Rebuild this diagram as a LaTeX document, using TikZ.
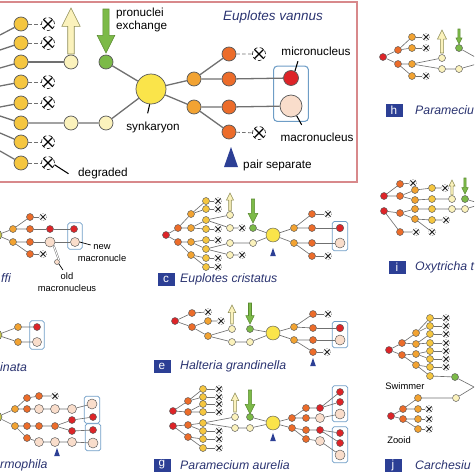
\documentclass[tikz,border=0pt]{standalone}
\usepackage{fontspec}
\setmainfont{Liberation Sans}
\usetikzlibrary{fit}

\definecolor{nucyellow}{HTML}{F5C640}
\definecolor{paleyellow}{HTML}{FBF2BC}
\definecolor{synyellow}{HTML}{FAE44A}
\definecolor{nucgreen}{HTML}{7CBA48}
\definecolor{nucamber}{HTML}{F2A332}
\definecolor{nucorange}{HTML}{EC6C2A}
\definecolor{nucred}{HTML}{DD2428}
\definecolor{nucpeach}{HTML}{F9DDCB}
\definecolor{olivesyn}{HTML}{C4C24A}
\definecolor{rimgray}{HTML}{595959}
\definecolor{linegray}{HTML}{707070}
\definecolor{boxblue}{HTML}{6E9DC6}
\definecolor{panelred}{HTML}{D8898B}
\definecolor{tagblue}{HTML}{2C3F95}
\definecolor{titleblue}{HTML}{2A3370}
\definecolor{creamrim}{HTML}{8E8C55}
\definecolor{greenrim}{HTML}{5A8A30}

\tikzset{
  nuc/.style={circle, draw=rimgray, line width=0.6pt, inner sep=0pt, minimum size=14*0.03cm, fill=#1},
  snuc/.style={circle, draw=rimgray, line width=0.4pt, inner sep=0pt, minimum size=7*0.03cm, fill=#1},
  lost/.style={circle, draw=black, densely dashed, line width=0.5pt, inner sep=0pt, minimum size=13*0.03cm,
    path picture={\draw[solid, line width=1.1pt]
      (path picture bounding box.north west) -- (path picture bounding box.south east)
      (path picture bounding box.north east) -- (path picture bounding box.south west);}},
  slost/.style={circle, draw=black!70, densely dotted, line width=0.35pt, inner sep=0pt, minimum size=7.5*0.03cm,
    path picture={\draw[solid, line width=0.9pt, black!85]
      (path picture bounding box.north west) -- (path picture bounding box.south east)
      (path picture bounding box.north east) -- (path picture bounding box.south west);}},
  link/.style={draw=linegray, line width=1.1pt},
  dlink/.style={draw=linegray, densely dashed, line width=0.7pt},
  slink/.style={draw=linegray, line width=0.55pt},
  pointer/.style={draw=black, line width=0.9pt},
  nbox/.style={draw=boxblue, rounded corners=3pt, line width=0.9pt, inner xsep=6*0.03cm, inner ysep=4*0.03cm},
  snbox/.style={draw=boxblue, rounded corners=1.5pt, line width=0.6pt, inner sep=2.5*0.03cm},
  tag/.style={fill=tagblue, text=white, minimum width=17*0.03cm, minimum height=13*0.03cm, inner sep=0pt, font=\fontsize{10}{10}\selectfont},
  species/.style={anchor=west, inner sep=0pt, text=titleblue, font=\fontsize{10.5}{12}\selectfont\itshape},
  note/.style={inner sep=0pt, align=center, font=\fontsize{10}{11.6}\selectfont},
  snote/.style={inner sep=0pt, align=center, font=\fontsize{8}{10}\selectfont},
  creamup/.pic={\path[draw=creamrim, fill=paleyellow, line width=0.5pt]
    (-1.4,0) -- (-1.4,-12) -- (-4,-12) -- (0,-20) -- (4,-12) -- (1.4,-12) -- (1.4,0) -- cycle;},
  greendown/.pic={\path[draw=greenrim, fill=nucgreen, line width=0.5pt]
    (-1.4,0) -- (-1.4,12) -- (-4,12) -- (0,20) -- (4,12) -- (1.4,12) -- (1.4,0) -- cycle;},
  parting/.pic={\fill[tagblue] (-7,0) -- (0,-20) -- (7,0) -- cycle;},
}

\begin{document}
\begin{tikzpicture}[x=0.03cm, y=-0.03cm]
\useasboundingbox (0,0) rectangle (474,474);
\clip (0,0) rectangle (474,474);

% ---------- panel a: Euplotes vannus ----------
\draw[panelred, line width=1.8pt] (-5,2) rectangle (357,182);
\node[species, font=\fontsize{11.5}{13}\selectfont\itshape] (atitle) at (223,17) {Euplotes vannus};

\foreach \i/\y/\ly in {1/24/35,2/43/50,3/62/68,4/82/86,5/103/107,6/123/116,7/142/133,8/163/151}{
  \node[nuc=nucyellow] (y\i) at (21,\y) {};
  \coordinate (in\i) at (0,\ly);
  \draw[link] (in\i) -- (y\i);
}
\foreach \i/\y in {1/24,2/43,4/82,5/103,7/142,8/163}{
  \node[lost] (x\i) at (48,\y) {};
  \draw[dlink] (y\i) -- (x\i);
}
\node[nuc=paleyellow] (p3) at (71,62) {};
\node[nuc=paleyellow] (p6a) at (71,123) {};
\node[nuc=paleyellow] (p6b) at (106,123) {};
\node[nuc=nucgreen] (gr) at (106,62) {};
\node[nuc=synyellow, minimum size=30*0.03cm] (syn) at (151,89) {};
\draw[link] (y3) -- (p3);
\draw[link] (y6) -- (p6a) -- (p6b) -- (syn);
\draw[link] (gr) -- (syn);
\pic[scale=2.3] at (71,54) {creamup};
\pic[scale=2.2] at (106,9) {greendown};
\node[note, anchor=west, align=left] (pronote) at (116,20) {pronuclei\\exchange};
\node[note] (synlab) at (153,127) {synkaryon};
\draw[pointer] (syn.265) -- ++(-2,9);

\node[nuc=nucamber] (am1) at (194,79) {};
\node[nuc=nucamber] (am2) at (194,107) {};
\foreach \i/\y in {1/54,2/79,3/107,4/132} \node[nuc=nucorange] (or\i) at (229,\y) {};
\node[lost] (xr1) at (259,54) {};
\node[lost] (xr4) at (259,133) {};
\node[nuc=nucred, minimum size=15*0.03cm] (mic) at (291,78) {};
\node[nuc=nucpeach, minimum size=22*0.03cm] (mac) at (291,106) {};
\node[nbox, fit=(mic)(mac)] (pairbox) {};
\draw[link] (syn) -- (am1) (syn) -- (am2);
\draw[link] (am1) -- (or1) (am1) -- (or2) (am2) -- (or3) (am2) -- (or4);
\draw[dlink] (or1) -- (xr1) (or4) -- (xr4);
\draw[link] (or2) -- (mic) (or3) -- (mac);
\node[note] (miclab) at (316,51) {micronucleus};
\draw[pointer] (mic.60) -- ++(3,-10);
\node[note] (maclab) at (317,137) {macronucleus};
\draw[pointer] (mac.-60) -- ++(5,9);
\node[note, anchor=west] (deglab) at (78,173) {degraded};
\draw[pointer] (x8.-15) -- ++(14,9);
\pic at (231,167) {parting};
\node[note, anchor=west] (pairlab) at (243,165) {pair separate};

% ---------- panel b ----------
\node[snuc=olivesyn, minimum size=10*0.03cm] (bS) at (-3,235) {};
\node[snuc=nucamber] (bY1) at (13,229) {};
\node[snuc=nucamber] (bY2) at (13,242) {};
\foreach \i/\y in {1/217,2/229,3/242,4/254} \node[snuc=nucorange] (bO\i) at (30,\y) {};
\node[slost] (bX1) at (43,217) {};
\node[slost] (bX4) at (43,254) {};
\node[snuc=nucred] (bRm) at (50,229) {};
\node[snuc=nucred] (bMi) at (74,229) {};
\node[snuc=nucpeach, minimum size=10*0.03cm] (bOld) at (50,242) {};
\node[snuc=nucpeach, minimum size=9*0.03cm] (bNew) at (75,242) {};
\node[snuc=nucpeach, minimum size=5*0.03cm] (bFrag) at (57,262) {};
\node[snbox, fit=(bMi)(bNew)] (bbox) {};
\draw[slink] (bS) -- (bY1) (bS) -- (bY2) (bY1) -- (bO1) (bY1) -- (bO2) (bY2) -- (bO3) (bY2) -- (bO4);
\draw[slink] (bO1) -- (bX1) (bO4) -- (bX4) (bO2) -- (bRm) -- (bMi) (bO3) -- (bOld) -- (bNew);
\draw[linegray, double=white, double distance=0.8pt, line width=0.4pt] (bOld.south east) -- (bFrag.north east);
\node[snote] (bnewlab) at (102,253) {new\\macronucle};
\draw[pointer, line width=0.6pt] (bNew.east) -- ++(11,3);
\node[snote] (boldlab) at (67,282) {old\\macronucleus};
\draw[pointer, line width=0.6pt] (bFrag.south east) -- ++(4,6);
\node[species] (bname) at (1,278) {ffi};

% ---------- panel d ----------
\node[snuc=olivesyn, minimum size=10*0.03cm] (dS) at (-3,335) {};
\node[snuc=nucamber] (dY1) at (18,327) {};
\node[snuc=nucamber] (dY2) at (18,342) {};
\node[snuc=nucred] (dMi) at (37,327) {};
\node[snuc=nucpeach, minimum size=9*0.03cm] (dMa) at (37,342) {};
\node[snbox, fit=(dMi)(dMa)] (dbox) {};
\draw[slink] (dS) -- (dY1) (dS) -- (dY2) (dY1) -- (dMi) (dY2) -- (dMa);
\node[species] (dname) at (0,367) {inata};

% ---------- panel f ----------
\node[snuc=olivesyn, minimum size=10*0.03cm] (fS) at (-3,417) {};
\node[snuc=nucamber] (fO1) at (15,409) {};
\node[snuc=nucamber] (fO2) at (15,426) {};
\node[snuc=nucorange] (fA) at (27,398) {};
\node[snuc=nucorange] (fB) at (39,396) {};
\node[slost] (fX) at (55,396) {};
\node[snuc=nucorange] (fC) at (27,409) {};
\node[snuc=nucpeach, minimum size=9*0.03cm] (fD) at (39,409) {};
\node[snuc=nucpeach, minimum size=9*0.03cm] (fE) at (55,409) {};
\node[snuc=nucpeach, minimum size=9*0.03cm] (fF) at (72,409) {};
\node[snuc=nucpeach, minimum size=10*0.03cm] (fM1) at (92,404) {};
\node[snuc=nucorange] (fG) at (27,426) {};
\node[snuc=nucorange] (fH) at (39,426) {};
\node[snuc=nucorange] (fI) at (55,426) {};
\node[snuc=nucred] (fJ) at (72,420) {};
\node[snuc=nucred] (fK) at (72,431) {};
\node[snuc=nucred] (fM2) at (93,417) {};
\node[snuc=nucred] (fM3) at (93,430) {};
\node[snuc=nucorange] (fL) at (27,438) {};
\node[snuc=nucpeach, minimum size=9*0.03cm] (fN) at (39,442) {};
\node[snuc=nucpeach, minimum size=9*0.03cm] (fP) at (55,442) {};
\node[snuc=nucpeach, minimum size=9*0.03cm] (fQ) at (72,442) {};
\node[snuc=nucpeach, minimum size=10*0.03cm] (fM4) at (93,443) {};
\node[snbox, fit=(fM1)(fM2)] (fbox1) {};
\node[snbox, fit=(fM3)(fM4)] (fbox2) {};
\draw[slink] (fS) -- (fO1) (fS) -- (fO2) (fO1) -- (fA) (fO1) -- (fC) (fO2) -- (fG) (fO2) -- (fL);
\draw[slink] (fA) -- (fB) -- (fX) (fC) -- (fD) -- (fE) -- (fF) -- (fM1);
\draw[slink] (fG) -- (fH) -- (fI) (fI) -- (fJ) (fI) -- (fK) (fJ) -- (fM2) (fK) -- (fM3);
\draw[slink] (fL) -- (fN) -- (fP) -- (fQ) -- (fM4);
\pic[scale=0.4] at (57,456) {parting};
\node[species] (fname) at (0,465) {rmophila};

% ---------- panel c: Euplotes cristatus ----------
\node[snuc=nucred] (cR) at (166,235) {};
\node[snuc=nucorange] (cO1) at (178,228) {};
\node[snuc=nucorange] (cO2) at (178,242) {};
\foreach \i/\y in {1/214,2/228,3/242,4/255} \node[snuc=nucamber] (cA\i) at (191,\y) {};
\foreach \i/\y in {1/201,2/209,3/220,4/229,5/240,6/249,7/258,8/267} \node[snuc=nucyellow] (cY\i) at (206,\y) {};
\foreach \i/\y in {1/201,2/209,4/229,5/240,7/258,8/267}{
  \node[slost] (cX\i) at (218,\y) {};
  \draw[slink] (cY\i) -- (cX\i);
}
\foreach \i/\y in {1/215,2/228,3/243,4/255} \node[snuc=paleyellow] (cP\i) at (230,\y) {};
\node[slost] (cXP2) at (242,228) {};
\node[slost] (cXP4) at (242,255) {};
\node[snuc=paleyellow] (cPb) at (253,243) {};
\node[snuc=nucgreen] (cG) at (253,228) {};
\node[snuc=synyellow, minimum size=14*0.03cm] (cS) at (273,235) {};
\draw[slink] (cR) -- (cO1) (cR) -- (cO2) (cO1) -- (cA1) (cO1) -- (cA2) (cO2) -- (cA3) (cO2) -- (cA4);
\draw[slink] (cA1) -- (cY1) (cA1) -- (cY2) (cA2) -- (cY3) (cA2) -- (cY4) (cA3) -- (cY5) (cA3) -- (cY6) (cA4) -- (cY7) (cA4) -- (cY8);
\draw[slink] (cY3) -- (cP1) (cY3) -- (cP2) (cY6) -- (cP3) (cY6) -- (cP4) (cP2) -- (cXP2) (cP4) -- (cXP4);
\draw[slink] (cP3) -- (cPb) -- (cS) (cG) -- (cS);
\node[snuc=nucamber] (cRA1) at (294,228) {};
\node[snuc=nucamber] (cRA2) at (294,243) {};
\foreach \i/\y in {1/214,2/228,3/243,4/256} \node[snuc=nucorange] (cRO\i) at (312,\y) {};
\node[slost] (cRX1) at (328,214) {};
\node[slost] (cRX4) at (328,256) {};
\node[snuc=nucred, minimum size=7.5*0.03cm] (cMi) at (340,228) {};
\node[snuc=nucpeach, minimum size=10*0.03cm] (cMa) at (340,243) {};
\node[snbox, fit=(cMi)(cMa)] (cbox) {};
\draw[slink] (cS) -- (cRA1) (cS) -- (cRA2) (cRA1) -- (cRO1) (cRA1) -- (cRO2) (cRA2) -- (cRO3) (cRA2) -- (cRO4);
\draw[slink] (cRO1) -- (cRX1) (cRO2) -- (cMi) (cRO3) -- (cMa) (cRO4) -- (cRX4);
\pic[scale=0.9] at (230,211) {creamup};
\pic[scale=1.2] at (253,199) {greendown};
\pic[scale=0.4] at (273,256) {parting};
\node[tag] (ctag) at (166,279) {c};
\node[species] (cname) at (180,279) {Euplotes cristatus};

% ---------- panel e: Halteria grandinella ----------
\node[snuc=nucred] (eR) at (175,321) {};
\node[snuc=nucorange] (eO1) at (192,313) {};
\node[snuc=nucorange] (eO2) at (192,327) {};
\node[slost] (eX1) at (208,312) {};
\node[snuc=nucamber] (eA1) at (208,321) {};
\node[slost] (eXA1) at (221,321) {};
\node[snuc=nucamber] (eA2) at (208,336) {};
\node[snuc=paleyellow] (eP1) at (232,329) {};
\node[snuc=paleyellow] (eP2) at (232,342) {};
\node[snuc=paleyellow] (eP3) at (250,342) {};
\node[snuc=nucgreen] (eG) at (250,329) {};
\node[snuc=synyellow, minimum size=14*0.03cm] (eS) at (273,333) {};
\draw[slink] (eR) -- (eO1) (eR) -- (eO2) (eO1) -- (eX1) (eO2) -- (eA1) (eO2) -- (eA2) (eA1) -- (eXA1);
\draw[slink] (eA2) -- (eP1) (eA2) -- (eP2) (eP2) -- (eP3) -- (eS) (eG) -- (eS);
\node[snuc=nucamber] (eRA1) at (294,327) {};
\node[snuc=nucamber] (eRA2) at (294,340) {};
\foreach \i/\y in {1/314,2/328,3/340,4/352} \node[snuc=nucorange] (eRO\i) at (313,\y) {};
\node[slost] (eRX1) at (328,314) {};
\node[slost] (eRX4) at (327,352) {};
\node[snuc=nucred, minimum size=7.5*0.03cm] (eMi) at (340,328) {};
\node[snuc=nucpeach, minimum size=10*0.03cm] (eMa) at (340,340) {};
\node[snbox, fit=(eMi)(eMa)] (ebox) {};
\draw[slink] (eS) -- (eRA1) (eS) -- (eRA2) (eRA1) -- (eRO1) (eRA1) -- (eRO2) (eRA2) -- (eRO3) (eRA2) -- (eRO4);
\draw[slink] (eRO1) -- (eRX1) (eRO2) -- (eMi) (eRO3) -- (eMa) (eRO4) -- (eRX4);
\pic[scale=0.95] at (232,324) {creamup};
\pic[scale=1.05] at (250,303) {greendown};
\pic[scale=0.4] at (313,366) {parting};
\node[tag] (etag) at (162,366) {e};
\node[species] (ename) at (180,366) {Halteria grandinella};

% ---------- panel g: Paramecium aurelia ----------
\node[snuc=nucred] (gR1) at (173,411) {};
\node[snuc=nucred] (gR2) at (173,426) {};
\foreach \i/\y in {1/401,2/412,3/425,4/437} \node[snuc=nucorange] (gO\i) at (188,\y) {};
\foreach \i/\y in {1/389,2/397,3/404,4/412,5/423,6/431,7/439,8/448} \node[snuc=nucyellow] (gY\i) at (203,\y) {};
\foreach \i/\y in {1/389,2/397,3/404,4/412,6/431,7/439,8/448}{
  \node[slost] (gX\i) at (219,\y) {};
  \draw[slink] (gY\i) -- (gX\i);
}
\node[snuc=paleyellow] (gP1) at (235,417) {};
\node[snuc=paleyellow] (gP2) at (235,428) {};
\node[snuc=paleyellow] (gP3) at (250,428) {};
\node[snuc=nucgreen] (gG) at (250,417) {};
\node[snuc=synyellow, minimum size=14*0.03cm] (gS) at (273,423) {};
\draw[slink] (gR1) -- (gO1) (gR1) -- (gO2) (gR2) -- (gO3) (gR2) -- (gO4);
\draw[slink] (gO1) -- (gY1) (gO1) -- (gY2) (gO2) -- (gY3) (gO2) -- (gY4) (gO3) -- (gY5) (gO3) -- (gY6) (gO4) -- (gY7) (gO4) -- (gY8);
\draw[slink] (gY5) -- (gP1) (gY5) -- (gP2) (gP2) -- (gP3) -- (gS) (gG) -- (gS);
\node[snuc=nucorange] (gRA1) at (292,418) {};
\node[snuc=nucorange] (gRA2) at (292,428) {};
\foreach \i/\y in {1/408,2/418,3/430,4/439} \node[snuc=nucorange] (gRO\i) at (306,\y) {};
\node[snuc=nucred] (gRR1) at (320,408) {};
\node[snuc=nucpeach, minimum size=9*0.03cm] (gRP2) at (320,418) {};
\node[snuc=nucred] (gRR3) at (320,430) {};
\node[snuc=nucpeach, minimum size=9*0.03cm] (gRP4) at (320,441) {};
\node[snuc=nucred] (gM1) at (340,392) {};
\node[snuc=nucred] (gM2) at (340,402) {};
\node[snuc=nucpeach, minimum size=10*0.03cm] (gM3) at (340,414) {};
\node[snuc=nucred] (gM4) at (340,433) {};
\node[snuc=nucred] (gM5) at (340,443) {};
\node[snuc=nucpeach, minimum size=10*0.03cm] (gM6) at (340,455) {};
\node[snbox, fit=(gM1)(gM3)] (gbox1) {};
\node[snbox, fit=(gM4)(gM6)] (gbox2) {};
\draw[slink] (gS) -- (gRA1) (gS) -- (gRA2) (gRA1) -- (gRO1) (gRA1) -- (gRO2) (gRA2) -- (gRO3) (gRA2) -- (gRO4);
\draw[slink] (gRO1) -- (gRR1) (gRO2) -- (gRP2) (gRO3) -- (gRR3) (gRO4) -- (gRP4);
\draw[slink] (gRR1) -- (gM1) (gRR1) -- (gM2) (gRP2) -- (gM3) (gRR3) -- (gM4) (gRR3) -- (gM5) (gRP4) -- (gM6);
\pic[scale=0.95] at (235,412) {creamup};
\pic[scale=1.2] at (250,390) {greendown};
\pic[scale=0.4] at (273,441) {parting};
\node[tag] (gtag) at (162,465) {g};
\node[species] (gname) at (180,465) {Paramecium aurelia};

% ---------- panel h ----------
\node[snuc=nucred] (hR) at (383,57) {};
\node[snuc=nucorange] (hO1) at (398,50) {};
\node[snuc=nucorange] (hO2) at (398,64) {};
\foreach \i/\y in {1/37,2/48,3/64,4/76} \node[snuc=nucamber] (hA\i) at (412,\y) {};
\foreach \i/\y in {1/37,2/48,4/76}{
  \node[slost] (hX\i) at (426,\y) {};
  \draw[slink] (hA\i) -- (hX\i);
}
\node[snuc=paleyellow] (hP1) at (442,58) {};
\node[snuc=paleyellow] (hP2) at (442,69) {};
\node[snuc=paleyellow] (hP3) at (459,69) {};
\node[snuc=nucgreen] (hG) at (459,48) {};
\coordinate (hS) at (484,62);
\draw[slink] (hR) -- (hO1) (hR) -- (hO2) (hO1) -- (hA1) (hO1) -- (hA2) (hO2) -- (hA3) (hO2) -- (hA4);
\draw[slink] (hA3) -- (hP1) (hA3) -- (hP2) (hP2) -- (hP3) -- (hS) (hG) -- (hS);
\pic[scale=1.15] at (442,53) {creamup};
\pic[scale=0.75] at (459,29) {greendown};
\node[tag] (htag) at (394,110) {h};
\node[species] (hname) at (415,110) {Parameciu};

% ---------- panel i ----------
\node[snuc=nucred] (iR1) at (384,196) {};
\node[snuc=nucred] (iR2) at (384,211) {};
\node[snuc=nucorange] (iO1) at (400,184) {};
\node[slost] (iXO1) at (413,183) {};
\node[snuc=nucorange] (iO2) at (400,196) {};
\node[snuc=nucorange] (iO3) at (400,213) {};
\node[snuc=nucorange] (iO4) at (400,232) {};
\node[slost] (iXO4) at (416,232) {};
\foreach \i/\y in {1/190,2/200,3/209,4/219} \node[snuc=nucamber] (iA\i) at (415,\y) {};
\foreach \i/\y in {1/188,2/199,3/209,4/220} \node[snuc=nucyellow] (iY\i) at (432,\y) {};
\node[slost] (iXY1) at (445,188) {};
\node[slost] (iXY4) at (446,220) {};
\node[slost] (iXA4) at (432,232) {};
\node[snuc=paleyellow] (iP1) at (452,199) {};
\node[snuc=paleyellow] (iP2) at (452,209) {};
\node[snuc=paleyellow] (iP3) at (465,209) {};
\node[snuc=nucgreen] (iG) at (465,199) {};
\coordinate (iS) at (482,204);
\draw[slink] (iR1) -- (iO1) (iR1) -- (iO2) (iR2) -- (iO3) (iR2) -- (iO4) (iO1) -- (iXO1) (iO4) -- (iXO4);
\draw[slink] (iO2) -- (iA1) (iO2) -- (iA2) (iO3) -- (iA3) (iO3) -- (iA4);
\draw[slink] (iA1) -- (iY1) -- (iXY1) (iA2) -- (iY2) -- (iP1) (iA3) -- (iY3) -- (iP2) -- (iP3) -- (iS);
\draw[slink] (iA4) -- (iY4) -- (iXY4) (iA4) -- (iXA4) (iG) -- (iS);
\pic[scale=0.75] at (452,195) {creamup};
\pic[scale=0.8] at (465,178) {greendown};
\node[tag] (itag) at (397,267) {i};
\node[species] (iname) at (415,267) {Oxytricha t};

% ---------- panel j ----------
\node[snuc=nucred] (jR) at (389,350) {};
\node[snuc=nucorange] (jO1) at (402,343) {};
\node[snuc=nucorange] (jO2) at (402,355) {};
\foreach \i/\y in {1/333,2/344,3/354,4/365} \node[snuc=nucamber] (jA\i) at (416,\y) {};
\foreach \i/\y in {1/318,2/326,3/334,4/343,5/351,6/359,7/367,8/376} \node[snuc=nucyellow] (jY\i) at (430,\y) {};
\foreach \i/\y in {1/318,2/326,3/334,4/343,5/351,6/359,7/367}{
  \node[slost] (jX\i) at (446,\y) {};
  \draw[slink] (jY\i) -- (jX\i);
}
\node[snuc=nucgreen] (jG) at (455,377) {};
\coordinate (jS) at (474,387);
\draw[slink] (jR) -- (jO1) (jR) -- (jO2) (jO1) -- (jA1) (jO1) -- (jA2) (jO2) -- (jA3) (jO2) -- (jA4);
\draw[slink] (jA1) -- (jY1) (jA1) -- (jY2) (jA2) -- (jY3) (jA2) -- (jY4) (jA3) -- (jY5) (jA3) -- (jY6) (jA4) -- (jY7) (jA4) -- (jY8);
\draw[slink] (jY8) -- (jG) -- (jS);
\node[snote] (swimlab) at (405,386) {Swimmer};
\node[snuc=nucred] (zR) at (391,416) {};
\node[snuc=nucorange] (zO1) at (403,409) {};
\node[snuc=nucorange] (zO2) at (403,419) {};
\foreach \i/\y in {1/398,2/409,3/419,4/429} \node[snuc=nucamber] (zA\i) at (418,\y) {};
\foreach \i/\y in {2/409,3/419,4/429}{
  \node[slost] (zX\i) at (429,\y) {};
  \draw[slink] (zA\i) -- (zX\i);
}
\node[snuc=paleyellow] (zP) at (456,398) {};
\draw[slink] (zR) -- (zO1) (zR) -- (zO2) (zO1) -- (zA1) (zO1) -- (zA2) (zO2) -- (zA3) (zO2) -- (zA4);
\draw[slink] (zA1) -- (zP) -- (jS);
\node[snote] (zooidlab) at (399,440) {Zooid};
\node[tag] (jtag) at (393,465) {j};
\node[species] (jname) at (415,465) {Carchesiu};
\end{tikzpicture}
\end{document}
